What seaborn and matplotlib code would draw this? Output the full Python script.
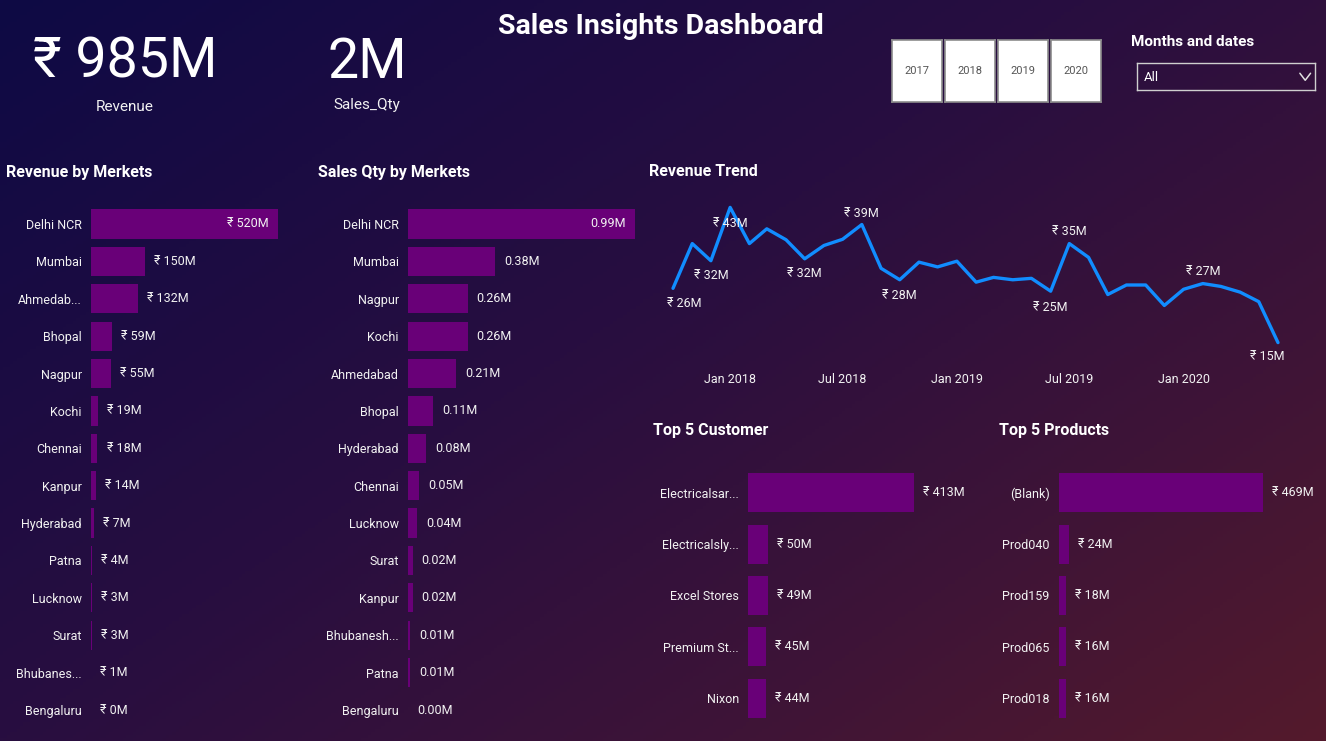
import numpy as np
import pandas as pd
import seaborn as sns
import matplotlib.pyplot as plt
import matplotlib.dates as mdates

W, H = 1326, 741

# ---- data ----
market_rev_names = ["Delhi NCR", "Mumbai", "Ahmedab...", "Bhopal", "Nagpur", "Kochi", "Chennai",
                    "Kanpur", "Hyderabad", "Patna", "Lucknow", "Surat", "Bhubanes...", "Bengaluru"]
market_rev = [520, 150, 132, 59, 55, 19, 18, 14, 7, 4, 3, 3, 1, 0.3]

market_qty_names = ["Delhi NCR", "Mumbai", "Nagpur", "Kochi", "Ahmedabad", "Bhopal", "Hyderabad",
                    "Chennai", "Lucknow", "Surat", "Kanpur", "Bhubanesh...", "Patna", "Bengaluru"]
market_qty = [0.99, 0.38, 0.26, 0.26, 0.21, 0.11, 0.08, 0.05, 0.04, 0.02, 0.02, 0.01, 0.01, 0.00]

customers = ["Electricalsar...", "Electricalsly...", "Excel Stores", "Premium St...", "Nixon"]
customer_rev = [413, 50, 49, 45, 44]

products = ["(Blank)", "Prod040", "Prod159", "Prod065", "Prod018"]
product_rev = [469, 24, 18, 16, 16]

months = pd.date_range("2017-10-01", periods=33, freq="MS")
trend = [26.0, 35.4, 31.8, 43.0, 35.4, 38.5, 36.2, 32.2, 35.0, 36.3, 39.4, 30.2, 27.8, 31.5,
         30.5, 31.7, 27.3, 28.3, 27.8, 28.1, 25.4, 35.4, 32.5, 24.7, 26.7, 26.7, 22.4, 25.8,
         27.0, 26.4, 25.2, 23.2, 14.6]
# labelled points: index -> offset in px (dx, dy down)
trend_labels = {0: (11, 15), 2: (0, 15), 3: (0, 16), 7: (0, 15), 10: (0, -11),
                12: (0, 16), 20: (0, 16), 21: (0, -12), 28: (0, -12), 32: (-11, 14)}
trend_ticks = ["2018-01-01", "2018-07-01", "2019-01-01", "2019-07-01", "2020-01-01"]

years = ["2017", "2018", "2019", "2020"]

BAR = "#690078"
LINE = "#118DFF"
TXT = "#f2f2f2"

sns.set_theme(style="white")
plt.rcParams["font.family"] = ["Roboto", "DejaVu Sans"]


def px(left, top, right, bottom):
    return [left / W, 1 - bottom / H, (right - left) / W, (bottom - top) / H]


fig = plt.figure(figsize=(W / 100, H / 100), dpi=100)

# background gradient
bg = fig.add_axes([0, 0, 1, 1], zorder=-10)
xx, yy = np.meshgrid(np.linspace(0, 1, 400), np.linspace(0, 1, 240))
t = 0.55 * xx + 0.45 * yy
stops = [0, 0.45, 0.75, 1.0]
cols = np.array([[14, 10, 69], [40, 14, 64], [62, 20, 55], [84, 26, 44]]) / 255
img = np.dstack([np.interp(t, stops, cols[:, k]) for k in range(3)])
bg.imshow(img, aspect="auto", extent=[0, 1, 0, 1], origin="upper")
bg.axis("off")


def ftext(x, y, s, **kw):
    fig.text(x / W, 1 - y / H, s, **kw)


# header
ftext(661, 27, "Sales Insights Dashboard", fontsize=20.5, fontweight="bold", color="white",
      ha="center", va="center")
ftext(125, 62, "₹ 985M", fontsize=40, color="white", ha="center", va="center")
ftext(125, 107, "Revenue", fontsize=11, color=TXT, ha="center", va="center")
ftext(367, 62, "2M", fontsize=40, color="white", ha="center", va="center")
ftext(367, 105, "Sales_Qty", fontsize=11, color=TXT, ha="center", va="center")

# year slicer
box_x = [892, 945, 998, 1051]
for yr, bx in zip(years, box_x):
    a = fig.add_axes(px(bx, 40, bx + 50, 102))
    a.set_facecolor("white")
    a.set_xticks([])
    a.set_yticks([])
    for s in a.spines.values():
        s.set_color("#8c8c8c")
        s.set_linewidth(1.2)
    a.text(0.5, 0.5, yr, ha="center", va="center", fontsize=8, color="#555555",
           transform=a.transAxes)

ftext(1131, 42, "Months and dates", fontsize=11, fontweight="bold", color="white",
      ha="left", va="center")
dd = fig.add_axes(px(1137, 63, 1315, 90))
dd.set_facecolor("none")
dd.set_xticks([])
dd.set_yticks([])
for s in dd.spines.values():
    s.set_color("#cfcfcf")
    s.set_linewidth(1)
dd.text(0.04, 0.45, "All", ha="left", va="center", fontsize=9.5, color="white",
        transform=dd.transAxes)
dd.plot([0.915, 0.945, 0.975], [0.62, 0.36, 0.62], color="#e0e0e0", lw=1.1,
        transform=dd.transAxes)
dd.set_xlim(0, 1)
dd.set_ylim(0, 1)


def bar_panel(rect, names, vals, xmax, labels, title, title_xy, width=0.78, inside_first=True):
    ax = fig.add_axes(px(*rect))
    ax.set_facecolor("none")
    sns.barplot(x=vals, y=names, orient="h", color=BAR, saturation=1, width=width, ax=ax,
                linewidth=0, edgecolor=BAR)
    ax.set_xlim(0, xmax)
    ax.set_ylim(len(vals) - 0.5, -0.5)
    ax.set_xticks([])
    ax.set_xlabel("")
    ax.set_ylabel("")
    sns.despine(ax=ax, left=True, bottom=True)
    ax.tick_params(axis="y", length=0, pad=6.5, labelsize=9, labelcolor=TXT)
    for i, (v, lab) in enumerate(zip(vals, labels)):
        if i == 0 and inside_first:
            ax.annotate(lab, (v, i), xytext=(-6.5, 0), textcoords="offset points",
                        ha="right", va="center", fontsize=9, color=TXT)
        else:
            ax.annotate(lab, (v, i), xytext=(6.5, 0), textcoords="offset points",
                        ha="left", va="center", fontsize=9, color=TXT, annotation_clip=False)
    ftext(title_xy[0], title_xy[1], title, fontsize=11.5, fontweight="bold", color="white",
          ha="left", va="center")
    return ax


bar_panel((91, 205.3, 278, 728.7), market_rev_names, market_rev, 520,
          [f"₹ {v:.0f}M" for v in market_rev], "Revenue by Merkets", (6, 172))
bar_panel((408, 205.3, 635, 728.7), market_qty_names, market_qty, 0.99,
          [f"{v:.2f}M" for v in market_qty], "Sales Qty by Merkets", (318, 172))
bar_panel((748, 467, 914, 724), customers, customer_rev, 413,
          [f"₹ {v:.0f}M" for v in customer_rev], "Top 5 Customer", (653, 430),
          width=0.76, inside_first=False)
bar_panel((1058.6, 467, 1263.4, 724), products, product_rev, 469,
          [f"₹ {v:.0f}M" for v in product_rev], "Top 5 Products", (999, 430),
          width=0.76, inside_first=False)

# revenue trend
ax = fig.add_axes(px(673, 183.6, 1278, 364.5))
ax.set_facecolor("none")
sns.lineplot(x=months, y=trend, ax=ax, color=LINE, linewidth=2.4)
ax.set_xlim(months[0], months[-1])
ax.set_ylim(10, 48)
ax.set_yticks([])
ax.set_xlabel("")
ax.set_ylabel("")
ax.set_xticks(pd.to_datetime(trend_ticks))
ax.xaxis.set_major_formatter(mdates.DateFormatter("%b %Y"))
ax.tick_params(axis="x", length=0, pad=6, labelsize=9, labelcolor=TXT)
sns.despine(ax=ax, left=True, bottom=True)
for line in ax.get_lines():
    line.set_clip_on(False)
for i, (dx, dy) in trend_labels.items():
    ax.annotate(f"₹ {trend[i]:.0f}M", (months[i], trend[i]), xytext=(dx * 0.72, -dy * 0.72),
                textcoords="offset points", ha="center", va="center", fontsize=9,
                color=TXT, annotation_clip=False)
ftext(649, 172, "Revenue Trend", fontsize=11.5, fontweight="bold", color="white",
      ha="left", va="center")

fig.savefig("out.png", dpi=100)
